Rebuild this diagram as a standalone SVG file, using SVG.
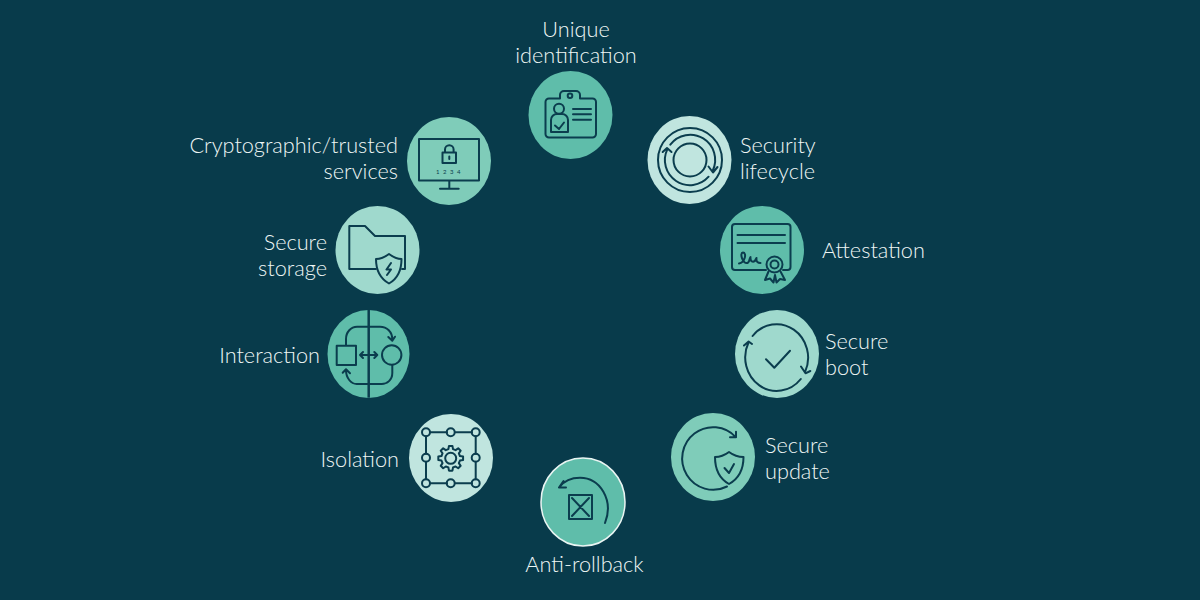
<svg xmlns="http://www.w3.org/2000/svg" width="1200" height="600" viewBox="0 0 1200 600">
<style>
.t{font-family:Lato,"Open Sans","Liberation Sans",sans-serif;font-weight:300;font-size:21.7px;fill:#eef6f5}
.m{text-anchor:middle}.e{text-anchor:end}
.i{fill:none;stroke:#0b3d4e;stroke-width:2;stroke-linecap:round;stroke-linejoin:round}
.a{fill:#5fbdaa}.b{fill:#c0e5df}.c{fill:#9fd9cd}.d{fill:#7fccb9}
</style>
<rect width="1200" height="600" fill="#083b4b"/>
<g id="connectors"/>
<g id="unique-identification">
<ellipse class="a" cx="570.5" cy="115" rx="42" ry="44"/>
<path class="i" d="M560 98.5H549a3.500 3.500 0 0 0-3.500 3.500V134a3.500 3.500 0 0 0 3.500 3.500H592.500a3.500 3.500 0 0 0 3.500-3.500V102a3.500 3.500 0 0 0-3.500-3.500H580V95a4 4 0 0 0-4-4H564a4 4 0 0 0-4 4Z"/>
<circle class="i" cx="570" cy="95.700" r="2.300"/>
<circle class="i" cx="559" cy="108.700" r="5"/>
<path class="i" d="M573 109H591M573 114.300H591M573 119.700H591M551 124V120a6 6 0 0 1 6-6H562a6 6 0 0 1 6 6V132H551ZM555 125.500L559 129L564 122.500"/>
<text class="t m" x="576" y="37">Unique</text><text class="t m" x="576" y="63">identification</text>
</g>
<g id="security-lifecycle">
<ellipse class="b" cx="689.500" cy="160" rx="42" ry="44"/>
<circle class="i" cx="690" cy="160" r="32"/><circle class="i" cx="690" cy="160" r="16.500"/>
<path class="i" d="M670.300 144.600A25 25 0 0 1 712.700 170.600M708.600 176.700A25 25 0 0 1 667.300 149.400M708.500 166.500L713 172.500L717.500 167M662.700 152L667 148L671.500 152"/>
<text class="t" x="740" y="153">Security</text><text class="t" x="740" y="179">lifecycle</text>
</g>
<g id="attestation">
<ellipse class="a" cx="762" cy="250" rx="42" ry="44"/>
<path class="i" d="M766 270H735a3 3 0 0 1-3-3V227a3 3 0 0 1 3-3H787.500a3 3 0 0 1 3 3V267a3 3 0 0 1-3 3H783M737.500 235H785M737.500 243H785"/>
<path class="i" d="M739 263.500C745 263 747 252.500 743 252.500C739 253 743 264 747.500 263C750 262 749.500 257 750.500 257C750 262 754 264 756.500 258C756 262 758 263 760.500 263"/>
<circle class="i" cx="774.500" cy="264.500" r="8"/><circle class="i" cx="774.500" cy="264.500" r="4"/>
<path class="i" d="M768.500 271.500L765 280L770 278.500L773.500 282.500L775 275L776.500 282.500L780 279L785 280L780.500 271.500"/>
<text class="t" x="822" y="258">Attestation</text>
</g>
<g id="secure-boot">
<ellipse class="c" cx="777" cy="354" rx="42" ry="44"/>
<path class="i" d="M752.600 336A31.500 33.500 0 0 1 805 372.200M800.800 379A31.500 33.500 0 0 1 748.600 342.300M744 345.500L748.600 341.500L752 344M801 366.500L805.500 373.300L810.300 371"/>
<path class="i" d="M766 359.300L774.300 367.700L790 350.700"/>
<text class="t" x="825" y="349">Secure</text><text class="t" x="825" y="375">boot</text>
</g>
<g id="secure-update">
<ellipse class="d" cx="713" cy="457" rx="42" ry="44"/>
<path class="i" d="M736 437.300A31 31.300 0 1 0 727 486.500M736 431.700V437.300H730"/>
<path class="i" d="M729 452C733 455 739 457 743.500 457C743.500 470 738 479 729 484C720 479 715 470 715 457C720 457 725 455 729 452ZM724.500 468L729 473L734 464"/>
<text class="t" x="765" y="453">Secure</text><text class="t" x="765" y="479">update</text>
</g>
<g id="anti-rollback">
<ellipse cx="583" cy="502" rx="42" ry="44" fill="#5fbdaa" stroke="#eaf5f3" stroke-width="1.500"/>
<path class="i" d="M605 523C614 500 600 477.700 580 477.700C571 477.700 564 481 559.500 487M563.500 481L559 487.500L566 487.500"/>
<path class="i" d="M569 495H592V519H569ZM572 498L589 516M589 498L572 516"/>
<text class="t m" x="584.500" y="572">Anti-rollback</text>
</g>
<g id="isolation">
<ellipse class="b" cx="451" cy="458" rx="42" ry="44"/>
<path class="i" d="M430 432.300H447M455 432.300H472M430 483.300H447M455 483.300H472M426 436.300V453.700M426 461.700V479.300M475.700 436.300V453.700M475.700 461.700V479.300"/>
<circle class="i" cx="426" cy="432.300" r="4"/><circle class="i" cx="450.700" cy="432.300" r="4"/><circle class="i" cx="475.700" cy="432.300" r="4"/>
<circle class="i" cx="426" cy="457.700" r="4"/><circle class="i" cx="475.700" cy="457.700" r="4"/>
<circle class="i" cx="426" cy="483.300" r="4"/><circle class="i" cx="450.700" cy="483.300" r="4"/><circle class="i" cx="475.700" cy="483.300" r="4"/>
<circle class="i" cx="450.700" cy="458.300" r="5.500"/>
<polygon class="i" transform="translate(450.700 458.300)" points="9.22,-2.3 12.38,-1.74 12.38,1.74 9.22,2.3 8.15,4.89 9.98,7.52 7.52,9.98 4.89,8.15 2.3,9.22 1.74,12.38 -1.74,12.38 -2.3,9.22 -4.89,8.15 -7.52,9.98 -9.98,7.52 -8.15,4.89 -9.22,2.3 -12.38,1.74 -12.38,-1.74 -9.22,-2.3 -8.15,-4.89 -9.98,-7.52 -7.52,-9.98 -4.89,-8.15 -2.3,-9.22 -1.74,-12.38 1.74,-12.38 2.3,-9.22 4.89,-8.15 7.52,-9.98 9.98,-7.52 8.15,-4.89"/>
<text class="t e" x="399" y="467">Isolation</text>
</g>
<g id="interaction">
<ellipse class="a" cx="368.500" cy="354" rx="41" ry="44"/>
<path class="i" style="stroke-width:2.500;stroke-linecap:butt" d="M368.700 310V397.700"/>
<path class="i" d="M336.700 345.700H356V365H336.700ZM346 345.700V339C346 332 351 326.700 357 326.700H380C387 326.700 392.300 332 392.300 339.500M388.300 337L392.300 340.700L395 336.700"/>
<circle class="i" cx="391.700" cy="355" r="9.700"/>
<path class="i" d="M392.300 365V373C392.300 380 387 384 381.700 384H356.700C351 384 346 378 346 370M342.700 372.700L346 369.300L350 373.300M360 355H377.300M363 352L360 355L363 358M374.300 352L377.300 355L374.300 358"/>
<text class="t e" x="320" y="363">Interaction</text>
</g>
<g id="secure-storage">
<ellipse class="c" cx="377.500" cy="250" rx="42" ry="44"/>
<path class="i" d="M376 269H349.300V226H365L375 236H405V269H402"/>
<path class="i" d="M389 254C393 257 397 259 401.500 259C401.500 271 397 279 389 283.500C381 279 376 271 376 259C381 259 385 257 389 254ZM391 263L386.500 269.500H391L387 275"/>
<text class="t e" x="327" y="250">Secure</text><text class="t e" x="327" y="276">storage</text>
</g>
<g id="cryptographic-trusted-services">
<ellipse class="d" cx="449" cy="161" rx="42" ry="44"/>
<path class="i" d="M419 139H479V180.500H419ZM449.300 180.500V188.700M440 188.700H458.700"/>
<path class="i" d="M442.500 152.500H456V163H442.500ZM445 152.500V149.500a4.300 4.300 0 0 1 8.600 0V152.500M449.300 156.500V159"/>
<text x="448.800" y="174" text-anchor="middle" font-family="Lato,sans-serif" font-size="6" letter-spacing="1" fill="#0b3d4e">1 2 3 4</text>
<text class="t e" x="398" y="153">Cryptographic/trusted</text><text class="t e" x="398" y="179">services</text>
</g>
</svg>
